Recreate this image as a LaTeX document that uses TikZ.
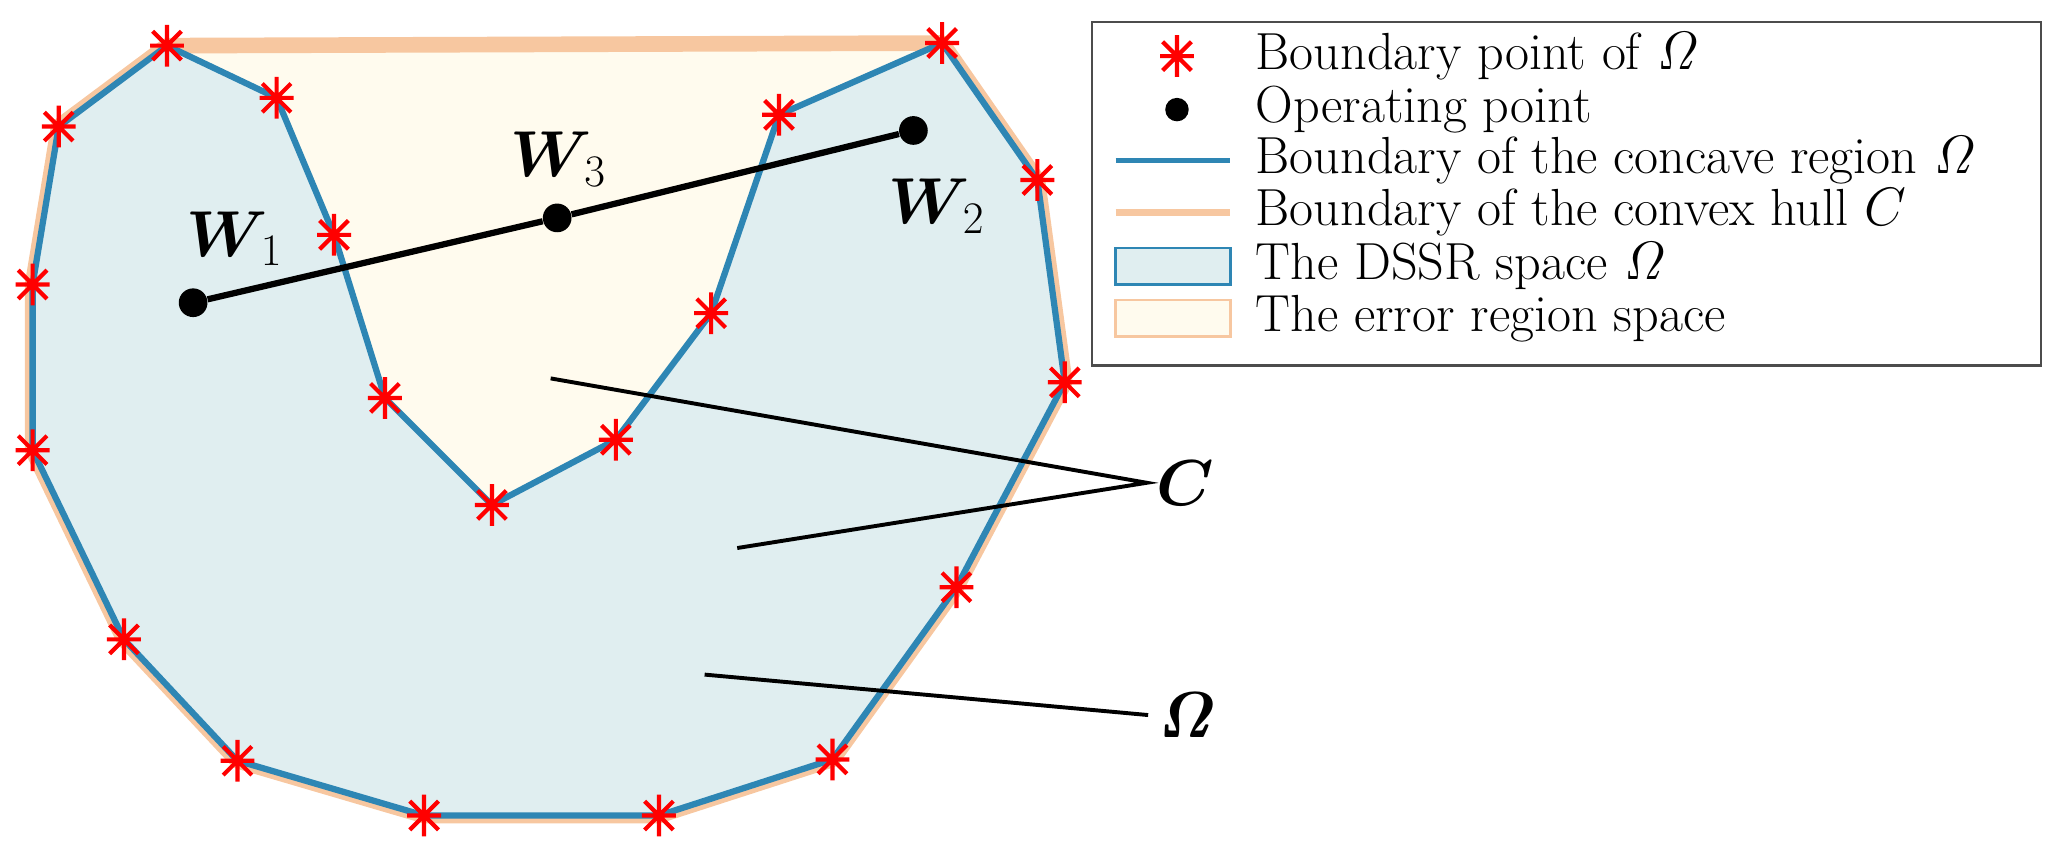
\documentclass[tikz,border=0pt]{standalone}
\usepackage{amsmath}
\begin{document}
\begin{tikzpicture}[x=0.5pt,y=-0.5pt,
  star/.pic={\draw[red,line width=1.6pt] (-13,0)--(13,0) (0,-16)--(0,16) (-11,-11)--(11,11) (-11,11)--(11,-11);},
  opt/.style={circle,fill=black,inner sep=0,minimum size=11pt},
  lbl/.style={font=\fontsize{24}{28}\selectfont},
  leg/.style={font=\fontsize{20}{24}\selectfont,anchor=west,inner sep=0}]
\definecolor{ombl}{RGB}{224,238,240}
\definecolor{erry}{RGB}{255,251,238}
\definecolor{bl}{RGB}{46,134,180}
\definecolor{orr}{RGB}{247,199,160}
\useasboundingbox (0,0) rectangle (1568,656);
\foreach \n/\x/\y in {p1/128/35,p2/212/75,p3/256/180,p4/295/305,p5/377/387,p6/472/337,p7/545/240,p8/597/88,p9/722/33,p10/795/138,p11/816/293,p12/733/450,p13/638/582,p14/505/625,p15/325/625,p16/182/583,p17/95/490,p18/25/345,p19/25/218,p20/45/97}
  \coordinate (\n) at (\x,\y);
\fill[erry] (p1)--(p9)--(p10)--(p11)--(p12)--(p13)--(p14)--(p15)--(p16)--(p17)--(p18)--(p19)--(p20)--cycle;
\draw[draw=orr,line width=6pt,line join=round] (p1)--(p9)--(p10)--(p11)--(p12)--(p13)--(p14)--(p15)--(p16)--(p17)--(p18)--(p19)--(p20)--cycle;
\filldraw[fill=ombl,draw=bl,line width=2.4pt,line join=round] (p1)--(p2)--(p3)--(p4)--(p5)--(p6)--(p7)--(p8)--(p9)--(p10)--(p11)--(p12)--(p13)--(p14)--(p15)--(p16)--(p17)--(p18)--(p19)--(p20)--cycle;
\foreach \n in {1,...,20} \pic at (p\n) {star};
\node[opt] (w1) at (148,232) {};
\node[opt] (w3) at (427,167) {};
\node[opt] (w2) at (700,100) {};
\draw[line width=2.4pt] (w1)--(w3)--(w2);
\node[lbl] (l1) at (180,183) {$\boldsymbol{W}_{\!1}$};
\node[lbl] (l3) at (428,122) {$\boldsymbol{W}_{\!3}$};
\node[lbl] (l2) at (718,158) {$\boldsymbol{W}_{\!2}$};
\node[lbl] (c) at (908,370) {$\boldsymbol{C}$};
\node[lbl] (om) at (910,548) {$\boldsymbol{\mathit{\Omega}}$};
\coordinate (c1) at (422,290);
\coordinate (c2) at (565,420);
\coordinate (o1) at (540,517);
\draw[line width=1.5pt] (c1)--(c.west)--(c2);
\draw[line width=1.5pt] (o1)--(om.west);
\coordinate (lgA) at (837,17); \coordinate (lgB) at (1564,280);
\draw[black!70,line width=1pt] (lgA) rectangle (lgB);
\pic at (902,43) {star};
\node[leg] (t1) at (962,43) {Boundary point of $\mathit{\Omega}$};
\node[opt,minimum size=9pt] (s2) at (902,84) {};
\node[leg] (t2) at (962,84) {Operating point};
\coordinate (a3) at (855,123); \coordinate (b3) at (943,123);
\draw[bl,line width=2pt] (a3)--(b3);
\node[leg] (t3) at (962,123) {Boundary of the concave region $\mathit{\Omega}$};
\coordinate (a4) at (855,163); \coordinate (b4) at (943,163);
\draw[orr,line width=2.5pt] (a4)--(b4);
\node[leg] (t4) at (962,163) {Boundary of the convex hull $C$};
\draw[bl,fill=ombl,line width=1pt] (855,190) rectangle (943,218);
\node[leg] (t5) at (962,204) {The DSSR space $\mathit{\Omega}$};
\draw[orr,fill=erry,line width=1pt] (855,230) rectangle (943,258);
\node[leg] (t6) at (962,244) {The error region space};
\end{tikzpicture}
\end{document}
